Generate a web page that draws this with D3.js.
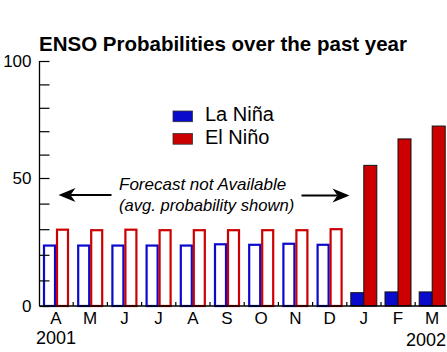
<!DOCTYPE html>
<html>
<head>
<meta charset="utf-8">
<script src="https://cdn.jsdelivr.net/npm/d3@7"></script>
<style>
  body { margin: 0; background: #fff; }
  svg { display: block; font-family: "Liberation Sans", Arial, Helvetica, sans-serif; }
</style>
</head>
<body>
<div id="chart"></div>
<script>
// months Apr 2001 .. Mar 2002
let months = ['Apr','May','Jun','Jul','Aug','Sep','Oct','Nov','Dec','Jan','Feb','Mar']
let monthLabels = ['A','M','J','J','A','S','O','N','D','J','F','M']
let laNina = [24, 24, 24, 24, 24, 24.5, 24.3, 24.7, 24.3, 5.2, 5.5, 5.5]
let elNino = [30.2, 30, 30.2, 30, 30, 30, 30, 30, 30.4, 55.4, 66.7, 72.2]
let forecastAvailable = [false, false, false, false, false, false, false, false, false, true, true, true]
let series = ['La Niña', 'El Niño']
let yTicks = [0, 10, 20, 30, 40, 50, 60, 70, 80, 90, 100]
let yLabels = [0, 50, 100]

let width = 447, height = 352
let blue = '#0a0acc', red = '#cc0000'
let colors = { 'La Niña': blue, 'El Niño': red }

let svg = d3.select('#chart').append('svg')
  .attr('width', width)
  .attr('height', height)

let x = d3.scaleBand().domain(months).range([38, 448.4])
let xSub = d3.scaleBand().domain(series).range([5, 31])
let y = d3.scaleLinear().domain([0, 50, 100]).range([306, 178, 61])

// title
svg.append('text')
  .attr('x', 39).attr('y', 51)
  .style('font-size', '20.5px').style('font-weight', 'bold')
  .text('ENSO Probabilities over the past year')

// bars
let rows = months.map((m, i) => ({ key: m, values: [laNina[i], elNino[i]], filled: forecastAvailable[i] }))

let groups = svg.selectAll('g.month')
  .data(rows)
  .enter().append('g')
  .attr('class', 'month')
  .attr('transform', d => `translate(${x(d.key)},0)`)

groups.selectAll('rect')
  .data(d => series.map((s, j) => ({ s: s, v: d.values[j], filled: d.filled })))
  .enter().append('rect')
  .attr('x', d => d.filled ? xSub(d.s) : xSub(d.s) + 1)
  .attr('y', d => d.filled ? y(d.v) : y(d.v) + 1)
  .attr('width', d => d.filled ? xSub.bandwidth() : xSub.bandwidth() - 2)
  .attr('height', d => d.filled ? y(0) - y(d.v) : y(0) - y(d.v) - 1)
  .style('fill', d => d.filled ? colors[d.s] : '#fff')
  .style('stroke', d => d.filled ? '#111' : colors[d.s])
  .style('stroke-width', d => d.filled ? 1 : 2.2)

// y axis: inward ticks
svg.append('g')
  .attr('transform', 'translate(39.5,0)')
  .call(d3.axisRight(y).tickValues(yTicks).tickSize(10).tickFormat(''))
  .call(g => g.select('.domain').attr('d', `M0,${y(100)}V${y(0)}`).style('stroke-width', 1.3))
  .call(g => g.selectAll('.tick line').style('stroke-width', 1.2))

svg.append('g')
  .attr('transform', 'translate(39.5,0)')
  .call(d3.axisLeft(y).tickValues(yLabels).tickSize(0).tickPadding(8))
  .call(g => g.select('.domain').remove())
  .call(g => g.selectAll('text').style('font-size', '17px').style('font-family', '"Liberation Sans", Arial, sans-serif'))

// x axis baseline and small upward ticks at month boundaries
svg.append('line')
  .attr('x1', 39.5).attr('x2', width)
  .attr('y1', y(0)).attr('y2', y(0))
  .style('stroke', '#000').style('stroke-width', 1.5)

svg.selectAll('line.xtick')
  .data(months.slice(1))
  .enter().append('line')
  .attr('class', 'xtick')
  .attr('x1', d => x(d) + 1).attr('x2', d => x(d) + 1)
  .attr('y1', y(0)).attr('y2', y(0) - 4)
  .style('stroke', '#000').style('stroke-width', 1.2)

svg.selectAll('text.month')
  .data(months)
  .enter().append('text')
  .attr('class', 'month')
  .attr('x', d => x(d) + (xSub.range()[0] + xSub.range()[1]) / 2)
  .attr('y', 324)
  .attr('text-anchor', 'middle')
  .style('font-size', '17px')
  .text((d, i) => monthLabels[i])

svg.append('text')
  .attr('x', x('Apr') + 18).attr('y', 344)
  .attr('text-anchor', 'middle')
  .style('font-size', '18px')
  .text('2001')

svg.append('text')
  .attr('x', 446).attr('y', 346)
  .attr('text-anchor', 'end')
  .style('font-size', '18px')
  .text('2002')

// legend
let legend = svg.selectAll('g.legend')
  .data(series)
  .enter().append('g')
  .attr('class', 'legend')
  .attr('transform', (d, i) => `translate(173,${111 + i * 22.5})`)

legend.append('rect')
  .attr('width', 19.5).attr('height', 10.7)
  .style('fill', d => colors[d])
  .style('stroke', '#333').style('stroke-width', 0.8)

legend.append('text')
  .attr('x', 32).attr('y', 10)
  .style('font-size', '20px')
  .text(d => d)

// annotation
svg.append('text')
  .attr('x', 119).attr('y', 190)
  .style('font-size', '17px').style('font-style', 'italic')
  .text('Forecast not Available')

svg.append('text')
  .attr('x', 119).attr('y', 211)
  .style('font-size', '16.6px').style('font-style', 'italic')
  .text('(avg. probability shown)')

function arrow(x1, x2, yy) {
  let dir = Math.sign(x2 - x1)
  svg.append('line')
    .attr('x1', x1).attr('x2', x2 - dir * 12)
    .attr('y1', yy).attr('y2', yy)
    .style('stroke', '#000').style('stroke-width', 2.2)
  svg.append('path')
    .attr('d', `M${x2},${yy}L${x2 - dir * 17},${yy - 7}L${x2 - dir * 12},${yy}L${x2 - dir * 17},${yy + 7}Z`)
    .style('fill', '#000')
}
arrow(111.5, 58.5, 195)
arrow(301.5, 349.5, 195.5)
</script>
</body>
</html>
